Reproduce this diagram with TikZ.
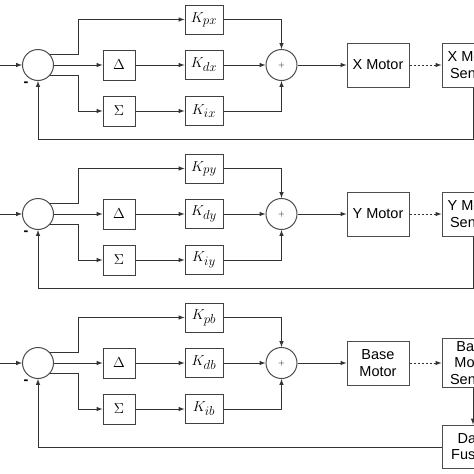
\documentclass[tikz,border=0pt]{standalone}
\usepackage{fix-cm}
\usepackage{amsmath,amssymb}
\usepackage{fontspec}
\setsansfont{Liberation Sans}
\usepackage{tikz}
\usetikzlibrary{arrows}
\DeclareMathSizes{14.4}{14.4}{13}{10}

\tikzset{
  gainblk/.style={draw=black!75, line width=1pt, minimum width=38pt, minimum height=29pt, inner sep=0pt},
  opblk/.style={draw=black!75, line width=1pt, minimum width=32pt, minimum height=30pt, inner sep=0pt},
  hwblk/.style={draw=black!70, line width=1pt, minimum width=62pt, minimum height=44pt, inner ysep=3pt,
    inner xsep=0pt, align=center, font=\sffamily\fontsize{14.5}{16.5}\selectfont},
  junc/.style={draw=black!70, line width=1pt, circle, minimum size=31pt, inner sep=0pt},
  sig/.style={-latex, draw=black!80, line width=1pt},
}

\begin{document}
\begin{tikzpicture}[x=1pt,y=-1pt,font=\Large]
\useasboundingbox (0,0) rectangle (474,474);
\clip (0,0) rectangle (474,474);
% one loop per axis
\foreach \r/\s/\mot/\sen/\y/\f/\src in {1/x/{X Motor}/{X Motor\\Sensor}/0/139/sn1.south,
    2/y/{Y Motor}/{Y Motor\\Sensor}/149/288/sn2.south,
    3/b/{Base\\Motor}/{Base\\Motor\\Sensor}/298/447/df.west}{
  \node[junc] (e\r) at (38,65+\y) {};
  \node[font=\sffamily\bfseries\Large] (neg\r) at (26,84+\y) {-};
  \node[gainblk] (kp\r) at (204,19.5+\y) {$K_{p\s}$};
  \node[opblk] (d\r) at (119,65+\y) {$\Delta$};
  \node[gainblk] (kd\r) at (204,65+\y) {$K_{d\s}$};
  \node[opblk] (i\r) at (119,111+\y) {$\Sigma$};
  \node[gainblk] (ki\r) at (204,111+\y) {$K_{i\s}$};
  \node[junc, font=\footnotesize] (s\r) at (281.5,65+\y) {$+$};
  \node[hwblk] (m\r) at (378,65+\y) {\mot};
  \node[hwblk] (sn\r) at (473,65+\y) {\sen};
  \coordinate (in\r) at (0,65+\y);
  \coordinate (fb\r) at (38,\f);
  \ifnum\r=3
    \node[hwblk, minimum height=43pt] (df) at (473,446.5) {Data\\Fusion};
    \draw[sig] (sn3) -- (df);
  \fi
  \draw[sig] (in\r) -- (e\r);
  \draw[sig] (e\r.40) -- ++(28,0) |- (kp\r);
  \draw[sig] (e\r) -- (d\r);
  \draw[sig] (e\r.-40) -- ++(28,0) |- (i\r);
  \draw[sig] (d\r) -- (kd\r);
  \draw[sig] (i\r) -- (ki\r);
  \draw[sig] (kp\r) -| (s\r);
  \draw[sig] (kd\r) -- (s\r);
  \draw[sig] (ki\r) -| (s\r);
  \draw[sig] (s\r) -- (m\r);
  \draw[sig, dash pattern=on 2pt off 2pt] (m\r) -- (sn\r);
  \draw[sig] (\src) |- (fb\r) -- (e\r.south);
}
\end{tikzpicture}
\end{document}
